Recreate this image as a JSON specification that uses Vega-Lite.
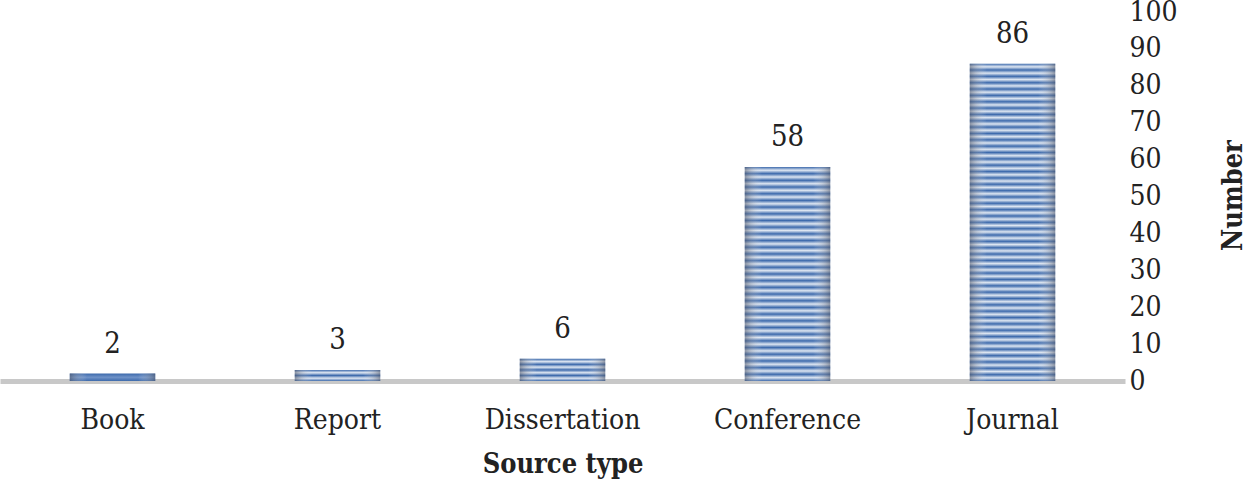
{
  "$schema": "https://vega.github.io/schema/vega-lite/v6.json",
  "autosize": {"type": "none"},
  "width": 1125,
  "height": 369,
  "padding": {"left": 0, "top": 12, "right": 125, "bottom": 102},
  "background": "white",
  "config": {
    "view": {"stroke": null},
    "font": "DejaVu Serif Condensed, Liberation Serif, serif"
  },
  "data": {
    "values": [
      {"type": "Book", "n": 2},
      {"type": "Report", "n": 3},
      {"type": "Dissertation", "n": 6},
      {"type": "Conference", "n": 58},
      {"type": "Journal", "n": 86}
    ]
  },
  "encoding": {
    "x": {
      "field": "type",
      "type": "nominal",
      "scale": {"domain": ["Book", "Report", "Dissertation", "Conference", "Journal"], "paddingInner": 0.62, "paddingOuter": 0.31},
      "axis": {
        "title": "Source type",
        "labelAngle": 0,
        "labelFont": "DejaVu Serif Condensed, Liberation Serif, serif",
        "labelFontSize": 28,
        "labelColor": "#222222",
        "labelPadding": 25,
        "ticks": false,
        "domainColor": "#c8c8c8",
        "domainWidth": 5,
        "titleFont": "DejaVu Serif Condensed, Liberation Serif, serif",
        "titleFontSize": 27,
        "titleFontWeight": "bold",
        "titleColor": "#222222",
        "titlePadding": 17
      }
    },
    "y": {
      "field": "n",
      "type": "quantitative",
      "scale": {"domain": [0, 100]},
      "axis": {
        "orient": "right",
        "title": "Number",
        "values": [0, 10, 20, 30, 40, 50, 60, 70, 80, 90, 100],
        "grid": false,
        "domain": false,
        "ticks": false,
        "labelAlign": "left",
        "labelBaseline": "middle",
        "labelPadding": 4,
        "labelFont": "DejaVu Serif Condensed, Liberation Serif, serif",
        "labelFontSize": 28,
        "labelColor": "#222222",
        "titleFont": "DejaVu Serif Condensed, Liberation Serif, serif",
        "titleFontSize": 27,
        "titleFontWeight": "bold",
        "titleColor": "#222222",
        "titleAngle": 270,
        "titleAlign": "center",
        "titleBaseline": "middle",
        "titleX": 108,
        "titleY": 183
      }
    }
  },
  "layer": [
    {
      "transform": [{"filter": "datum.type === 'Book'"}],
      "mark": {"type": "bar", "fill": {"gradient": "linear", "x1": 0, "y1": 0, "x2": 0, "y2": 1, "stops": [
        {"offset": 0, "color": "#3d6aac"}, {"offset": 0.5, "color": "#6f92c8"}, {"offset": 1, "color": "#3d6aac"}
      ]}}
    },
    {
      "transform": [{"filter": "datum.type === 'Report'"}],
      "mark": {"type": "bar", "fill": {"gradient": "linear", "x1": 0, "y1": 0, "x2": 0, "y2": 1, "stops": [
        {"offset": 0, "color": "#3d6aac"}, {"offset": 0.25, "color": "#dde6f2"}, {"offset": 0.5, "color": "#3d6aac"}, {"offset": 0.75, "color": "#dde6f2"}, {"offset": 1, "color": "#3d6aac"}
      ]}}
    },
    {
      "transform": [{"filter": "datum.type === 'Dissertation'"}],
      "mark": {"type": "bar", "fill": {"gradient": "linear", "x1": 0, "y1": 0, "x2": 0, "y2": 1, "stops": [
        {"offset": 0, "color": "#3d6aac"}, {"offset": 0.125, "color": "#dde6f2"}, {"offset": 0.25, "color": "#3d6aac"}, {"offset": 0.375, "color": "#dde6f2"}, {"offset": 0.5, "color": "#3d6aac"}, {"offset": 0.625, "color": "#dde6f2"}, {"offset": 0.75, "color": "#3d6aac"}, {"offset": 0.875, "color": "#dde6f2"}, {"offset": 1, "color": "#3d6aac"}
      ]}}
    },
    {
      "transform": [{"filter": "datum.type === 'Conference'"}],
      "mark": {"type": "bar", "fill": {"gradient": "linear", "x1": 0, "y1": 0, "x2": 0, "y2": 1, "stops": [
        {"offset": 0, "color": "#3d6aac"}, {"offset": 0.015625, "color": "#dde6f2"},
        {"offset": 0.03125, "color": "#3d6aac"}, {"offset": 0.046875, "color": "#dde6f2"},
        {"offset": 0.0625, "color": "#3d6aac"}, {"offset": 0.078125, "color": "#dde6f2"},
        {"offset": 0.09375, "color": "#3d6aac"}, {"offset": 0.109375, "color": "#dde6f2"},
        {"offset": 0.125, "color": "#3d6aac"}, {"offset": 0.140625, "color": "#dde6f2"},
        {"offset": 0.15625, "color": "#3d6aac"}, {"offset": 0.171875, "color": "#dde6f2"},
        {"offset": 0.1875, "color": "#3d6aac"}, {"offset": 0.203125, "color": "#dde6f2"},
        {"offset": 0.21875, "color": "#3d6aac"}, {"offset": 0.234375, "color": "#dde6f2"},
        {"offset": 0.25, "color": "#3d6aac"}, {"offset": 0.265625, "color": "#dde6f2"},
        {"offset": 0.28125, "color": "#3d6aac"}, {"offset": 0.296875, "color": "#dde6f2"},
        {"offset": 0.3125, "color": "#3d6aac"}, {"offset": 0.328125, "color": "#dde6f2"},
        {"offset": 0.34375, "color": "#3d6aac"}, {"offset": 0.359375, "color": "#dde6f2"},
        {"offset": 0.375, "color": "#3d6aac"}, {"offset": 0.390625, "color": "#dde6f2"},
        {"offset": 0.40625, "color": "#3d6aac"}, {"offset": 0.421875, "color": "#dde6f2"},
        {"offset": 0.4375, "color": "#3d6aac"}, {"offset": 0.453125, "color": "#dde6f2"},
        {"offset": 0.46875, "color": "#3d6aac"}, {"offset": 0.484375, "color": "#dde6f2"},
        {"offset": 0.5, "color": "#3d6aac"}, {"offset": 0.515625, "color": "#dde6f2"},
        {"offset": 0.53125, "color": "#3d6aac"}, {"offset": 0.546875, "color": "#dde6f2"},
        {"offset": 0.5625, "color": "#3d6aac"}, {"offset": 0.578125, "color": "#dde6f2"},
        {"offset": 0.59375, "color": "#3d6aac"}, {"offset": 0.609375, "color": "#dde6f2"},
        {"offset": 0.625, "color": "#3d6aac"}, {"offset": 0.640625, "color": "#dde6f2"},
        {"offset": 0.65625, "color": "#3d6aac"}, {"offset": 0.671875, "color": "#dde6f2"},
        {"offset": 0.6875, "color": "#3d6aac"}, {"offset": 0.703125, "color": "#dde6f2"},
        {"offset": 0.71875, "color": "#3d6aac"}, {"offset": 0.734375, "color": "#dde6f2"},
        {"offset": 0.75, "color": "#3d6aac"}, {"offset": 0.765625, "color": "#dde6f2"},
        {"offset": 0.78125, "color": "#3d6aac"}, {"offset": 0.796875, "color": "#dde6f2"},
        {"offset": 0.8125, "color": "#3d6aac"}, {"offset": 0.828125, "color": "#dde6f2"},
        {"offset": 0.84375, "color": "#3d6aac"}, {"offset": 0.859375, "color": "#dde6f2"},
        {"offset": 0.875, "color": "#3d6aac"}, {"offset": 0.890625, "color": "#dde6f2"},
        {"offset": 0.90625, "color": "#3d6aac"}, {"offset": 0.921875, "color": "#dde6f2"},
        {"offset": 0.9375, "color": "#3d6aac"}, {"offset": 0.953125, "color": "#dde6f2"},
        {"offset": 0.96875, "color": "#3d6aac"}, {"offset": 0.984375, "color": "#dde6f2"},
        {"offset": 1, "color": "#3d6aac"}
      ]}}
    },
    {
      "transform": [{"filter": "datum.type === 'Journal'"}],
      "mark": {"type": "bar", "fill": {"gradient": "linear", "x1": 0, "y1": 0, "x2": 0, "y2": 1, "stops": [
        {"offset": 0, "color": "#3d6aac"}, {"offset": 0.01, "color": "#dde6f2"},
        {"offset": 0.02, "color": "#3d6aac"}, {"offset": 0.03, "color": "#dde6f2"},
        {"offset": 0.04, "color": "#3d6aac"}, {"offset": 0.05, "color": "#dde6f2"},
        {"offset": 0.06, "color": "#3d6aac"}, {"offset": 0.07, "color": "#dde6f2"},
        {"offset": 0.08, "color": "#3d6aac"}, {"offset": 0.09, "color": "#dde6f2"},
        {"offset": 0.10, "color": "#3d6aac"}, {"offset": 0.11, "color": "#dde6f2"},
        {"offset": 0.12, "color": "#3d6aac"}, {"offset": 0.13, "color": "#dde6f2"},
        {"offset": 0.14, "color": "#3d6aac"}, {"offset": 0.15, "color": "#dde6f2"},
        {"offset": 0.16, "color": "#3d6aac"}, {"offset": 0.17, "color": "#dde6f2"},
        {"offset": 0.18, "color": "#3d6aac"}, {"offset": 0.19, "color": "#dde6f2"},
        {"offset": 0.20, "color": "#3d6aac"}, {"offset": 0.21, "color": "#dde6f2"},
        {"offset": 0.22, "color": "#3d6aac"}, {"offset": 0.23, "color": "#dde6f2"},
        {"offset": 0.24, "color": "#3d6aac"}, {"offset": 0.25, "color": "#dde6f2"},
        {"offset": 0.26, "color": "#3d6aac"}, {"offset": 0.27, "color": "#dde6f2"},
        {"offset": 0.28, "color": "#3d6aac"}, {"offset": 0.29, "color": "#dde6f2"},
        {"offset": 0.30, "color": "#3d6aac"}, {"offset": 0.31, "color": "#dde6f2"},
        {"offset": 0.32, "color": "#3d6aac"}, {"offset": 0.33, "color": "#dde6f2"},
        {"offset": 0.34, "color": "#3d6aac"}, {"offset": 0.35, "color": "#dde6f2"},
        {"offset": 0.36, "color": "#3d6aac"}, {"offset": 0.37, "color": "#dde6f2"},
        {"offset": 0.38, "color": "#3d6aac"}, {"offset": 0.39, "color": "#dde6f2"},
        {"offset": 0.40, "color": "#3d6aac"}, {"offset": 0.41, "color": "#dde6f2"},
        {"offset": 0.42, "color": "#3d6aac"}, {"offset": 0.43, "color": "#dde6f2"},
        {"offset": 0.44, "color": "#3d6aac"}, {"offset": 0.45, "color": "#dde6f2"},
        {"offset": 0.46, "color": "#3d6aac"}, {"offset": 0.47, "color": "#dde6f2"},
        {"offset": 0.48, "color": "#3d6aac"}, {"offset": 0.49, "color": "#dde6f2"},
        {"offset": 0.50, "color": "#3d6aac"}, {"offset": 0.51, "color": "#dde6f2"},
        {"offset": 0.52, "color": "#3d6aac"}, {"offset": 0.53, "color": "#dde6f2"},
        {"offset": 0.54, "color": "#3d6aac"}, {"offset": 0.55, "color": "#dde6f2"},
        {"offset": 0.56, "color": "#3d6aac"}, {"offset": 0.57, "color": "#dde6f2"},
        {"offset": 0.58, "color": "#3d6aac"}, {"offset": 0.59, "color": "#dde6f2"},
        {"offset": 0.60, "color": "#3d6aac"}, {"offset": 0.61, "color": "#dde6f2"},
        {"offset": 0.62, "color": "#3d6aac"}, {"offset": 0.63, "color": "#dde6f2"},
        {"offset": 0.64, "color": "#3d6aac"}, {"offset": 0.65, "color": "#dde6f2"},
        {"offset": 0.66, "color": "#3d6aac"}, {"offset": 0.67, "color": "#dde6f2"},
        {"offset": 0.68, "color": "#3d6aac"}, {"offset": 0.69, "color": "#dde6f2"},
        {"offset": 0.70, "color": "#3d6aac"}, {"offset": 0.71, "color": "#dde6f2"},
        {"offset": 0.72, "color": "#3d6aac"}, {"offset": 0.73, "color": "#dde6f2"},
        {"offset": 0.74, "color": "#3d6aac"}, {"offset": 0.75, "color": "#dde6f2"},
        {"offset": 0.76, "color": "#3d6aac"}, {"offset": 0.77, "color": "#dde6f2"},
        {"offset": 0.78, "color": "#3d6aac"}, {"offset": 0.79, "color": "#dde6f2"},
        {"offset": 0.80, "color": "#3d6aac"}, {"offset": 0.81, "color": "#dde6f2"},
        {"offset": 0.82, "color": "#3d6aac"}, {"offset": 0.83, "color": "#dde6f2"},
        {"offset": 0.84, "color": "#3d6aac"}, {"offset": 0.85, "color": "#dde6f2"},
        {"offset": 0.86, "color": "#3d6aac"}, {"offset": 0.87, "color": "#dde6f2"},
        {"offset": 0.88, "color": "#3d6aac"}, {"offset": 0.89, "color": "#dde6f2"},
        {"offset": 0.90, "color": "#3d6aac"}, {"offset": 0.91, "color": "#dde6f2"},
        {"offset": 0.92, "color": "#3d6aac"}, {"offset": 0.93, "color": "#dde6f2"},
        {"offset": 0.94, "color": "#3d6aac"}, {"offset": 0.95, "color": "#dde6f2"},
        {"offset": 0.96, "color": "#3d6aac"}, {"offset": 0.97, "color": "#dde6f2"},
        {"offset": 0.98, "color": "#3d6aac"}, {"offset": 0.99, "color": "#dde6f2"},
        {"offset": 1, "color": "#3d6aac"}
      ]}}
    },
    {
      "mark": {"type": "bar", "fill": {"gradient": "linear", "x1": 0, "y1": 0, "x2": 1, "y2": 0, "stops": [
        {"offset": 0, "color": "rgba(80,85,100,0.55)"},
        {"offset": 0.2, "color": "rgba(255,255,255,0)"},
        {"offset": 0.8, "color": "rgba(255,255,255,0)"},
        {"offset": 1, "color": "rgba(80,85,100,0.55)"}
      ]}}
    },
    {
      "mark": {"type": "text", "baseline": "alphabetic", "dy": -21, "fontSize": 29, "color": "#222222", "font": "DejaVu Serif Condensed, Liberation Serif, serif"},
      "encoding": {"text": {"field": "n", "type": "quantitative"}}
    }
  ]
}
